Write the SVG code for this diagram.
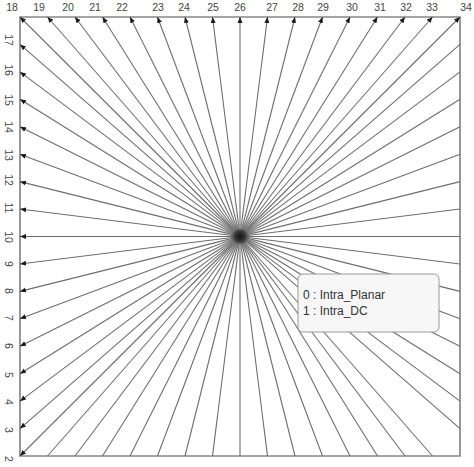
<svg xmlns="http://www.w3.org/2000/svg" width="474" height="467" viewBox="0 0 474 467">
<style>
.ln{stroke:#6e6e6e;stroke-width:1.1;fill:none}
.ar{marker-end:url(#ah)}
.bd{stroke:#888888;stroke-width:1.7;fill:none}
.lb{font-family:"Liberation Sans",Arial,sans-serif;font-size:10.5px;fill:#444;text-anchor:middle}
.lg{font-family:"Liberation Sans",Arial,sans-serif;font-size:12px;fill:#333}
</style>
<defs>
<marker id="ah" markerUnits="userSpaceOnUse" markerWidth="7" markerHeight="6" refX="6" refY="3" orient="auto">
<path d="M0,0.5 L6,3 L0,5.5 z" fill="#1a1a1a"/>
</marker>
<marker id="ahs" markerUnits="userSpaceOnUse" markerWidth="7" markerHeight="6" refX="6" refY="3" orient="auto-start-reverse">
<path d="M0,0.5 L6,3 L0,5.5 z" fill="#1a1a1a"/>
</marker>
<radialGradient id="blob">
<stop offset="0" stop-color="#111" stop-opacity="0.95"/>
<stop offset="0.6" stop-color="#222" stop-opacity="0.7"/>
<stop offset="1" stop-color="#444" stop-opacity="0"/>
</radialGradient>
</defs>
<rect width="474" height="467" fill="#ffffff"/>
<g id="frame">
<path class="bd" d="M20,17 L460,17 L460,456 L20,456 Z"/>
</g>
<g id="connectors">
<line class="ln" x1="20" y1="456" x2="460" y2="17" marker-start="url(#ahs)" marker-end="url(#ahs)"/>
<line class="ln ar" x1="460" y1="44.44" x2="20" y2="428.56"/>
<line class="ln ar" x1="460" y1="71.88" x2="20" y2="401.13"/>
<line class="ln ar" x1="460" y1="99.31" x2="20" y2="373.69"/>
<line class="ln ar" x1="460" y1="126.75" x2="20" y2="346.25"/>
<line class="ln ar" x1="460" y1="154.19" x2="20" y2="318.81"/>
<line class="ln ar" x1="460" y1="181.63" x2="20" y2="291.38"/>
<line class="ln ar" x1="460" y1="209.06" x2="20" y2="263.94"/>
<line class="ln ar" x1="460" y1="236.5" x2="20" y2="236.5"/>
<line class="ln ar" x1="460" y1="263.94" x2="20" y2="209.06"/>
<line class="ln ar" x1="460" y1="291.38" x2="20" y2="181.63"/>
<line class="ln ar" x1="460" y1="318.81" x2="20" y2="154.19"/>
<line class="ln ar" x1="460" y1="346.25" x2="20" y2="126.75"/>
<line class="ln ar" x1="460" y1="373.69" x2="20" y2="99.31"/>
<line class="ln ar" x1="460" y1="401.13" x2="20" y2="71.88"/>
<line class="ln ar" x1="460" y1="428.56" x2="20" y2="44.44"/>
<line class="ln ar" x1="240" y1="236.5" x2="20" y2="17"/>
<line class="ln ar" x1="432.5" y1="456" x2="47.5" y2="17"/>
<line class="ln ar" x1="405" y1="456" x2="75" y2="17"/>
<line class="ln ar" x1="377.5" y1="456" x2="102.5" y2="17"/>
<line class="ln ar" x1="350" y1="456" x2="130" y2="17"/>
<line class="ln ar" x1="322.5" y1="456" x2="157.5" y2="17"/>
<line class="ln ar" x1="295" y1="456" x2="185" y2="17"/>
<line class="ln ar" x1="267.5" y1="456" x2="212.5" y2="17"/>
<line class="ln ar" x1="240" y1="456" x2="240" y2="17"/>
<line class="ln ar" x1="212.5" y1="456" x2="267.5" y2="17"/>
<line class="ln ar" x1="185" y1="456" x2="295" y2="17"/>
<line class="ln ar" x1="157.5" y1="456" x2="322.5" y2="17"/>
<line class="ln ar" x1="130" y1="456" x2="350" y2="17"/>
<line class="ln ar" x1="102.5" y1="456" x2="377.5" y2="17"/>
<line class="ln ar" x1="75" y1="456" x2="405" y2="17"/>
<line class="ln ar" x1="47.5" y1="456" x2="432.5" y2="17"/>
<circle cx="240" cy="236.5" r="9" fill="url(#blob)"/>
</g>
<g id="top-labels">
<text class="lb" x="12" y="11">18</text>
<text class="lb" x="39" y="11">19</text>
<text class="lb" x="68" y="11">20</text>
<text class="lb" x="95" y="11">21</text>
<text class="lb" x="122" y="11">22</text>
<text class="lb" x="158" y="11">23</text>
<text class="lb" x="184" y="11">24</text>
<text class="lb" x="213" y="11">25</text>
<text class="lb" x="240" y="11">26</text>
<text class="lb" x="272" y="11">27</text>
<text class="lb" x="298" y="11">28</text>
<text class="lb" x="323" y="11">29</text>
<text class="lb" x="352" y="11">30</text>
<text class="lb" x="380" y="11">31</text>
<text class="lb" x="406" y="11">32</text>
<text class="lb" x="432" y="11">33</text>
<text class="lb" x="466" y="11">34</text>
</g>
<g id="left-labels">
<text class="lb" transform="translate(4.5,40) rotate(90)">17</text>
<text class="lb" transform="translate(4.5,70) rotate(90)">16</text>
<text class="lb" transform="translate(4.5,100) rotate(90)">15</text>
<text class="lb" transform="translate(4.5,127) rotate(90)">14</text>
<text class="lb" transform="translate(4.5,155) rotate(90)">13</text>
<text class="lb" transform="translate(4.5,180) rotate(90)">12</text>
<text class="lb" transform="translate(4.5,208) rotate(90)">11</text>
<text class="lb" transform="translate(4.5,237) rotate(90)">10</text>
<text class="lb" transform="translate(4.5,264) rotate(90)">9</text>
<text class="lb" transform="translate(4.5,291) rotate(90)">8</text>
<text class="lb" transform="translate(4.5,318) rotate(90)">7</text>
<text class="lb" transform="translate(4.5,346) rotate(90)">6</text>
<text class="lb" transform="translate(4.5,375) rotate(90)">5</text>
<text class="lb" transform="translate(4.5,402) rotate(90)">4</text>
<text class="lb" transform="translate(4.5,430) rotate(90)">3</text>
<text class="lb" transform="translate(4.5,459) rotate(90)">2</text>
</g>
<g id="legend">
<rect x="298" y="274" width="141" height="58" rx="5" ry="5" fill="#f7f7f7" stroke="#9a9a9a" stroke-width="1"/>
<text class="lg" x="303" y="299">0 : Intra_Planar</text>
<text class="lg" x="303" y="315">1 : Intra_DC</text>
</g>
</svg>
